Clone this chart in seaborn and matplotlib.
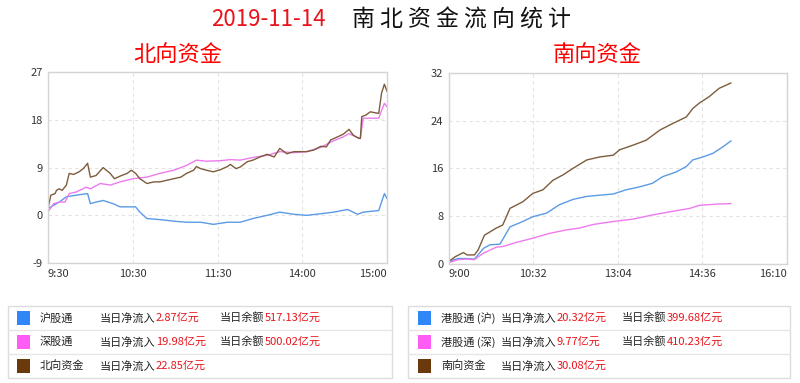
import matplotlib
matplotlib.use("Agg")
import matplotlib.pyplot as plt
import seaborn as sns
from matplotlib.patches import Rectangle
from matplotlib.lines import Line2D

# ---- data: north-bound (minutes since 9:30, lunch removed) ----
hgt_t = [0, 6, 8, 13, 20, 28, 30, 34, 39, 46, 51, 58, 62, 65, 70, 79, 89, 98, 108, 117,
         127, 136, 145, 155, 164, 174, 183, 193, 202, 212, 219, 223, 230, 234, 238, 240]
hgt_v = [1.3, 2.2, 2.5, 3.5, 3.8, 4.1, 2.2, 2.5, 2.8, 2.2, 1.6, 1.6, 1.6, 0.6, -0.6, -0.8,
         -1.1, -1.3, -1.3, -1.7, -1.3, -1.3, -0.6, 0.0, 0.6, 0.2, 0.0, 0.3, 0.6, 1.1, 0.2,
         0.6, 0.8, 0.9, 4.1, 3.1]

sgt_t = [0, 4, 8, 12, 15, 20, 27, 30, 37, 44, 51, 60, 70, 79, 89, 98, 105, 112, 122, 129,
         136, 145, 155, 164, 174, 183, 193, 200, 209, 213, 220, 221, 223, 234, 238, 240]
sgt_v = [0.6, 2.2, 2.5, 2.5, 4.1, 4.4, 5.3, 5.0, 6.0, 5.7, 6.3, 6.9, 7.2, 7.9, 8.5, 9.4,
         10.4, 10.2, 10.3, 10.5, 10.4, 10.9, 11.3, 12.0, 11.8, 12.0, 12.8, 13.8, 14.8, 15.4,
         14.5, 14.5, 18.3, 18.3, 21.1, 20.4]

bx_t = [0, 2, 5, 6, 8, 10, 13, 15, 18, 22, 25, 28, 30, 34, 39, 44, 47, 52, 56, 59, 62, 65,
        70, 75, 79, 84, 89, 94, 98, 103, 105, 108, 112, 117, 122, 127, 129, 133, 136, 141,
        145, 150, 155, 160, 164, 169, 174, 179, 183, 188, 193, 197, 200, 205, 209, 213, 216,
        220, 221, 222, 225, 228, 234, 236, 238, 240]
bx_v = [1.3, 3.8, 4.1, 4.7, 5.0, 4.7, 5.7, 7.9, 7.7, 8.2, 8.8, 9.8, 7.2, 7.5, 9.0, 7.9, 6.9,
        7.5, 7.9, 8.5, 7.9, 6.9, 6.0, 6.3, 6.3, 6.6, 6.9, 7.2, 7.9, 8.5, 9.2, 8.8, 8.5, 8.2,
        8.6, 9.2, 9.6, 8.8, 9.1, 10.1, 10.4, 11.0, 11.5, 11.0, 12.6, 11.6, 12.0, 12.0, 12.0,
        12.3, 13.0, 12.9, 14.2, 14.8, 15.3, 16.2, 15.1, 14.5, 14.5, 18.6, 18.9, 19.5, 19.2,
        23.0, 24.7, 23.3]

# ---- data: south-bound (minutes since 9:00, lunch removed) ----
ggth_t = [0, 10, 19, 28, 38, 45, 56, 67, 81, 92, 107, 121, 136, 151, 165, 180, 194, 209,
          223, 234, 249, 260, 267, 278, 289, 300, 309]
ggth_v = [0.4, 0.9, 0.9, 0.8, 2.6, 3.2, 3.3, 6.2, 7.1, 7.9, 8.5, 9.9, 10.8, 11.3, 11.5,
          11.7, 12.4, 12.9, 13.5, 14.6, 15.4, 16.3, 17.4, 17.9, 18.5, 19.6, 20.6]

ggts_t = [0, 10, 19, 28, 38, 52, 59, 74, 92, 110, 129, 143, 158, 180, 202, 223, 245, 264,
          274, 293, 309]
ggts_v = [0.2, 0.7, 0.8, 0.7, 1.8, 2.8, 2.9, 3.6, 4.3, 5.1, 5.7, 6.0, 6.6, 7.1, 7.5, 8.2,
          8.8, 9.3, 9.8, 10.0, 10.1]

nx_t = [0, 7, 16, 20, 28, 32, 39, 52, 59, 67, 81, 92, 103, 114, 125, 136, 151, 165, 180,
        187, 202, 216, 231, 245, 260, 267, 274, 285, 296, 309]
nx_v = [0.4, 1.2, 1.9, 1.5, 1.5, 2.3, 4.8, 6.0, 6.5, 9.3, 10.4, 11.8, 12.4, 14.0, 14.9,
        16.0, 17.4, 17.9, 18.2, 19.1, 19.9, 20.7, 22.4, 23.5, 24.6, 26.0, 26.9, 28.0, 29.4,
        30.3]

north_ticks = ["9:30", "10:30", "11:30", "14:00", "15:00"]
south_ticks = ["9:00", "10:32", "13:04", "14:36", "16:10"]

north_rows = [("沪股通", "2.87亿元", "517.13亿元"),
              ("深股通", "19.98亿元", "500.02亿元"),
              ("北向资金", "22.85亿元", None)]
south_rows = [("港股通 (沪)", "20.32亿元", "399.68亿元"),
              ("港股通 (深)", "9.77亿元", "410.23亿元"),
              ("南向资金", "30.08亿元", None)]

BLUE, PINK, BROWN = "#2f86f6", "#ff5cf5", "#6b3a0c"
LBLUE, LPINK, LBROWN = "#5b9be6", "#ee7bee", "#7d5c3c"
RED = "#e8141c"

sns.set_style("white")
plt.rcParams["font.family"] = ["Noto Sans CJK SC", "DejaVu Sans"]
plt.rcParams["axes.unicode_minus"] = False

fig = plt.figure(figsize=(8, 3.83), dpi=100)


def style_axes(ax, xmax, ymin, ymax, yticks, labels):
    ax.set_xlim(0, xmax)
    ax.set_ylim(ymin, ymax)
    ax.set_yticks(yticks)
    ax.set_xticks([xmax * i / 4 for i in range(5)])
    ax.set_xticklabels(labels)
    tl = ax.get_xticklabels()
    tl[0].set_horizontalalignment("left")
    tl[-1].set_horizontalalignment("right")
    ax.tick_params(length=0, labelsize=8, colors="#333333", pad=4)
    ax.grid(True, linestyle=(0, (3, 3)), color="#e2e2e2", linewidth=0.8)
    for s in ax.spines.values():
        s.set_color("#d4d4d4")
        s.set_linewidth(1)
    ax.set_xlabel("")
    ax.set_ylabel("")


# north-bound chart
ax1 = fig.add_axes([0.06, 0.313, 0.424, 0.499])
sns.lineplot(x=hgt_t, y=hgt_v, ax=ax1, color=LBLUE, linewidth=1)
sns.lineplot(x=sgt_t, y=sgt_v, ax=ax1, color=LPINK, linewidth=1)
sns.lineplot(x=bx_t, y=bx_v, ax=ax1, color=LBROWN, linewidth=1)
style_axes(ax1, 240, -9, 27, [-9, 0, 9, 18, 27], north_ticks)

# south-bound chart
ax2 = fig.add_axes([0.561, 0.311, 0.4225, 0.499])
sns.lineplot(x=ggth_t, y=ggth_v, ax=ax2, color=LBLUE, linewidth=1)
sns.lineplot(x=ggts_t, y=ggts_v, ax=ax2, color=LPINK, linewidth=1)
sns.lineplot(x=nx_t, y=nx_v, ax=ax2, color=LBROWN, linewidth=1)
style_axes(ax2, 370, 0, 32, [0, 8, 16, 24, 32], south_ticks)

# titles
lg = fig.add_axes([0, 0, 1, 1])
lg.axis("off")
lg.set_xlim(0, 1)
lg.set_ylim(0, 1)
lg.text(0.407, 0.948, "2019-11-14", color=RED, fontsize=16, ha="right", va="center")
lg.text(0.44, 0.948, "南 北 资 金 流 向 统 计", color="#111111", fontsize=16.5,
        ha="left", va="center")
lg.text(0.222, 0.857, "北向资金", color="#ff0000", fontsize=16, ha="center", va="center")
lg.text(0.746, 0.857, "南向资金", color="#ff0000", fontsize=16, ha="center", va="center")


# legend tables
def legend_box(x0, x1, sq_x, name_x, in_x, bal_x, rows):
    top, bot = 1 - 306 / 383, 1 - 378 / 383
    lg.add_patch(Rectangle((x0 / 800, bot), (x1 - x0) / 800, top - bot,
                           fill=False, edgecolor="#dcdcdc", linewidth=1))
    for yy in (330, 354):
        lg.add_line(Line2D([x0 / 800, x1 / 800], [1 - yy / 383] * 2,
                           color="#e6e6e6", linewidth=1))
    colors = [BLUE, PINK, BROWN]
    for i, (name, inflow, bal) in enumerate(rows):
        yc = 1 - (318 + 24 * i) / 383
        lg.add_patch(Rectangle((sq_x / 800, yc - 7 / 383), 13 / 800, 14 / 383,
                               color=colors[i], linewidth=0))
        lg.text(name_x / 800, yc, name, fontsize=8, color="#222222", va="center")
        t = lg.text(in_x / 800, yc, "当日净流入", fontsize=8, color="#222222", va="center")
        lg.annotate(inflow, xy=(1, 0.5), xycoords=t, fontsize=8, color=RED,
                    va="center", ha="left")
        if bal:
            t2 = lg.text(bal_x / 800, yc, "当日余额", fontsize=8, color="#222222",
                         va="center")
            lg.annotate(bal, xy=(1, 0.5), xycoords=t2, fontsize=8, color=RED,
                        va="center", ha="left")


legend_box(8, 392, 17, 40, 100, 220, north_rows)
legend_box(408, 790, 418, 441, 501, 622, south_rows)

plt.savefig("out.png", dpi=100)
